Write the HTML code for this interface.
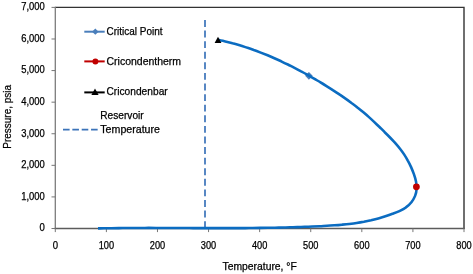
<!DOCTYPE html>
<html><head><meta charset="utf-8"><title>Phase envelope</title>
<style>
html,body{margin:0;padding:0;background:#fff}
svg{display:block}
text{font-family:"Liberation Sans",sans-serif;fill:#000;stroke:#000;stroke-width:0.25px}
.t{font-size:10px}
.l{font-size:10.9px}
</style></head><body>
<svg width="473" height="274" viewBox="0 0 473 274">
<rect x="0" y="0" width="473" height="274" fill="#fff"/>
<path d="M55.3 7.4 H464.0 V229.1" fill="none" stroke="#333" stroke-width="1.4"/>
<path d="M55.3 6.7 V228.5" fill="none" stroke="#7c7c7c" stroke-width="1.3"/>
<path d="M54.65 228.5 H464.7" fill="none" stroke="#5c5c5c" stroke-width="1.4"/>
<line x1="51.5" y1="228.50" x2="55.3" y2="228.50" stroke="#767676" stroke-width="1"/>
<text x="39.50" y="231.40" class="t" textLength="5.3" lengthAdjust="spacingAndGlyphs">0</text>
<line x1="51.5" y1="196.91" x2="55.3" y2="196.91" stroke="#767676" stroke-width="1"/>
<text x="21.20" y="199.81" class="t" textLength="23.6" lengthAdjust="spacingAndGlyphs">1,000</text>
<line x1="51.5" y1="165.33" x2="55.3" y2="165.33" stroke="#767676" stroke-width="1"/>
<text x="21.20" y="168.23" class="t" textLength="23.6" lengthAdjust="spacingAndGlyphs">2,000</text>
<line x1="51.5" y1="133.74" x2="55.3" y2="133.74" stroke="#767676" stroke-width="1"/>
<text x="21.20" y="136.64" class="t" textLength="23.6" lengthAdjust="spacingAndGlyphs">3,000</text>
<line x1="51.5" y1="102.16" x2="55.3" y2="102.16" stroke="#767676" stroke-width="1"/>
<text x="21.20" y="105.06" class="t" textLength="23.6" lengthAdjust="spacingAndGlyphs">4,000</text>
<line x1="51.5" y1="70.57" x2="55.3" y2="70.57" stroke="#767676" stroke-width="1"/>
<text x="21.20" y="73.47" class="t" textLength="23.6" lengthAdjust="spacingAndGlyphs">5,000</text>
<line x1="51.5" y1="38.99" x2="55.3" y2="38.99" stroke="#767676" stroke-width="1"/>
<text x="21.20" y="41.89" class="t" textLength="23.6" lengthAdjust="spacingAndGlyphs">6,000</text>
<line x1="51.5" y1="7.40" x2="55.3" y2="7.40" stroke="#767676" stroke-width="1"/>
<text x="21.20" y="10.30" class="t" textLength="23.6" lengthAdjust="spacingAndGlyphs">7,000</text>
<line x1="55.30" y1="228.5" x2="55.30" y2="232.1" stroke="#767676" stroke-width="1"/>
<text x="52.65" y="249.4" class="t" textLength="5.3" lengthAdjust="spacingAndGlyphs">0</text>
<line x1="106.39" y1="228.5" x2="106.39" y2="232.1" stroke="#767676" stroke-width="1"/>
<text x="98.69" y="249.4" class="t" textLength="15.4" lengthAdjust="spacingAndGlyphs">100</text>
<line x1="157.47" y1="228.5" x2="157.47" y2="232.1" stroke="#767676" stroke-width="1"/>
<text x="149.78" y="249.4" class="t" textLength="15.4" lengthAdjust="spacingAndGlyphs">200</text>
<line x1="208.56" y1="228.5" x2="208.56" y2="232.1" stroke="#767676" stroke-width="1"/>
<text x="200.86" y="249.4" class="t" textLength="15.4" lengthAdjust="spacingAndGlyphs">300</text>
<line x1="259.65" y1="228.5" x2="259.65" y2="232.1" stroke="#767676" stroke-width="1"/>
<text x="251.95" y="249.4" class="t" textLength="15.4" lengthAdjust="spacingAndGlyphs">400</text>
<line x1="310.74" y1="228.5" x2="310.74" y2="232.1" stroke="#767676" stroke-width="1"/>
<text x="303.04" y="249.4" class="t" textLength="15.4" lengthAdjust="spacingAndGlyphs">500</text>
<line x1="361.82" y1="228.5" x2="361.82" y2="232.1" stroke="#767676" stroke-width="1"/>
<text x="354.12" y="249.4" class="t" textLength="15.4" lengthAdjust="spacingAndGlyphs">600</text>
<line x1="412.91" y1="228.5" x2="412.91" y2="232.1" stroke="#767676" stroke-width="1"/>
<text x="405.21" y="249.4" class="t" textLength="15.4" lengthAdjust="spacingAndGlyphs">700</text>
<line x1="464.00" y1="228.5" x2="464.00" y2="232.1" stroke="#767676" stroke-width="1"/>
<text x="456.30" y="249.4" class="t" textLength="15.4" lengthAdjust="spacingAndGlyphs">800</text>
<line x1="205" y1="20" x2="205" y2="228.5" stroke="#3b73b9" stroke-width="1.7" stroke-dasharray="6.9 3.69"/>
<path d="M308.9 71.9 L312.7 75.8 L308.9 79.7 L305.1 75.8 Z" fill="#4a7ebb"/>
<path d="M218.0 39.8 C219.2 40.1 222.9 40.9 225.3 41.4 C227.7 42.0 230.1 42.6 232.5 43.3 C234.9 43.9 237.3 44.6 239.7 45.3 C242.1 46.0 244.4 46.8 246.8 47.6 C249.1 48.3 251.5 49.1 253.8 50.0 C256.1 50.8 258.4 51.7 260.7 52.6 C263.0 53.5 265.3 54.4 267.6 55.3 C269.9 56.3 272.2 57.3 274.4 58.3 C276.7 59.3 278.9 60.3 281.2 61.3 C283.4 62.4 285.7 63.5 287.9 64.5 C290.1 65.6 292.3 66.8 294.5 67.9 C296.7 69.0 298.9 70.2 301.1 71.4 C303.3 72.5 305.5 73.7 307.6 74.9 C309.8 76.2 312.0 77.4 314.1 78.6 C316.2 79.9 318.4 81.1 320.5 82.4 C322.7 83.7 324.8 85.0 326.9 86.3 C329.0 87.6 331.1 88.9 333.2 90.3 C335.3 91.6 337.4 93.0 339.4 94.4 C341.5 95.8 343.5 97.2 345.5 98.6 C347.5 100.0 349.5 101.5 351.5 103.0 C353.5 104.4 355.5 105.9 357.4 107.5 C359.3 109.0 361.2 110.5 363.1 112.1 C365.0 113.7 366.9 115.3 368.7 116.9 C370.5 118.5 372.3 120.2 374.1 121.9 C375.9 123.6 377.7 125.3 379.5 127.0 C381.2 128.7 383.0 130.4 384.7 132.2 C386.5 133.9 388.3 135.7 390.0 137.5 C391.7 139.3 393.4 141.1 395.1 142.9 C396.7 144.7 398.3 146.6 399.8 148.5 C401.3 150.4 402.8 152.4 404.1 154.4 C405.4 156.4 406.7 158.5 407.8 160.6 C409.0 162.7 410.1 164.9 411.1 167.1 C412.1 169.4 413.0 171.7 413.9 174.1 C414.7 176.4 415.5 178.9 416.0 181.4 C416.4 183.8 416.8 186.4 416.6 188.8 C416.5 191.2 416.0 193.6 415.1 195.9 C414.2 198.1 412.9 200.3 411.4 202.2 C409.8 204.2 407.9 206.0 405.9 207.4 C404.0 208.9 401.7 210.0 399.4 211.1 C397.2 212.1 394.8 212.9 392.5 213.7 C390.1 214.6 387.8 215.4 385.4 216.2 C383.1 217.0 380.7 217.8 378.3 218.4 C375.9 219.1 373.5 219.7 371.1 220.3 C368.7 220.8 366.3 221.3 363.9 221.8 C361.5 222.2 359.0 222.6 356.6 223.0 C354.2 223.4 351.7 223.7 349.2 224.0 C346.8 224.3 344.3 224.5 341.9 224.7 C339.4 225.0 336.9 225.2 334.5 225.3 C332.0 225.5 329.5 225.7 327.0 225.8 C324.6 225.9 322.1 226.1 319.6 226.2 C317.1 226.3 314.6 226.4 312.2 226.5 C309.7 226.7 307.2 226.8 304.7 226.8 C302.2 226.9 299.8 227.0 297.3 227.1 C294.8 227.2 292.3 227.3 289.9 227.3 C287.4 227.4 284.9 227.5 282.4 227.5 C279.9 227.6 277.5 227.6 275.0 227.7 C272.5 227.7 270.0 227.8 267.5 227.8 C265.1 227.9 262.6 227.9 260.1 227.9 C257.6 228.0 255.2 228.0 252.7 228.0 C250.2 228.0 247.7 228.1 245.2 228.1 C242.8 228.1 240.3 228.1 237.8 228.1 C235.3 228.1 232.8 228.1 230.4 228.1 C227.9 228.1 225.4 228.1 222.9 228.1 C220.5 228.1 218.0 228.1 215.5 228.1 C213.0 228.1 210.5 228.1 208.1 228.1 C205.6 228.1 203.1 228.1 200.6 228.1 C198.1 228.1 195.7 228.1 193.2 228.1 C190.7 228.1 188.2 228.0 185.8 228.0 C183.3 228.0 180.8 228.0 178.3 228.0 C175.8 228.0 173.4 228.0 170.9 228.0 C168.4 228.0 165.9 228.0 163.4 228.0 C161.0 228.0 158.5 228.0 156.0 228.0 C153.5 227.9 151.0 227.9 148.6 227.9 C146.1 227.9 143.6 228.0 141.1 228.0 C138.7 228.0 136.2 228.0 133.7 228.0 C131.2 228.0 128.7 228.0 126.3 228.0 C123.8 228.0 121.3 228.1 118.8 228.1 C116.3 228.1 113.9 228.1 111.4 228.2 C108.9 228.2 106.2 228.3 103.9 228.3 C101.7 228.3 99.0 228.4 98.0 228.4" fill="none" stroke="#0b6cc1" stroke-width="2.6" stroke-linecap="butt" stroke-linejoin="round"/>
<path d="M218 36.8 L221.4 43.1 L214.6 43.1 Z" fill="#000"/>
<circle cx="416.4" cy="186.8" r="3.4" fill="#c00000"/>
<line x1="84.3" y1="31.7" x2="104.7" y2="31.7" stroke="#4a7ebb" stroke-width="2"/>
<path d="M95.3 28.6 L98.5 31.7 L95.3 34.8 L92.1 31.7 Z" fill="#4a7ebb"/>
<text x="106.5" y="35.2" class="l" textLength="56" lengthAdjust="spacingAndGlyphs">Critical Point</text>
<line x1="84.3" y1="61.4" x2="104.7" y2="61.4" stroke="#c00000" stroke-width="2"/>
<circle cx="95.4" cy="61.4" r="3" fill="#c00000"/>
<text x="106.5" y="65.3" class="l" textLength="74.6" lengthAdjust="spacingAndGlyphs">Cricondentherm</text>
<line x1="84.3" y1="92.4" x2="104.7" y2="92.4" stroke="#000" stroke-width="2"/>
<path d="M95 88.6 L98.6 95 L91.4 95 Z" fill="#000"/>
<text x="106.5" y="95.3" class="l" textLength="61.2" lengthAdjust="spacingAndGlyphs">Cricondenbar</text>
<line x1="63" y1="129.7" x2="98.5" y2="129.7" stroke="#3b73b9" stroke-width="1.7" stroke-dasharray="6.6 2.75"/>
<text x="100.3" y="119.3" class="l" textLength="43.4" lengthAdjust="spacingAndGlyphs">Reservoir</text>
<text x="100.3" y="133" class="l" textLength="59.7" lengthAdjust="spacingAndGlyphs">Temperature</text>
<text x="222.5" y="270.3" class="l" textLength="74.3" lengthAdjust="spacingAndGlyphs">Temperature, °F</text>
<text transform="translate(10.9 148.7) rotate(-90)" class="l" textLength="63.7" lengthAdjust="spacingAndGlyphs">Pressure, psia</text>
</svg>
</body></html>
